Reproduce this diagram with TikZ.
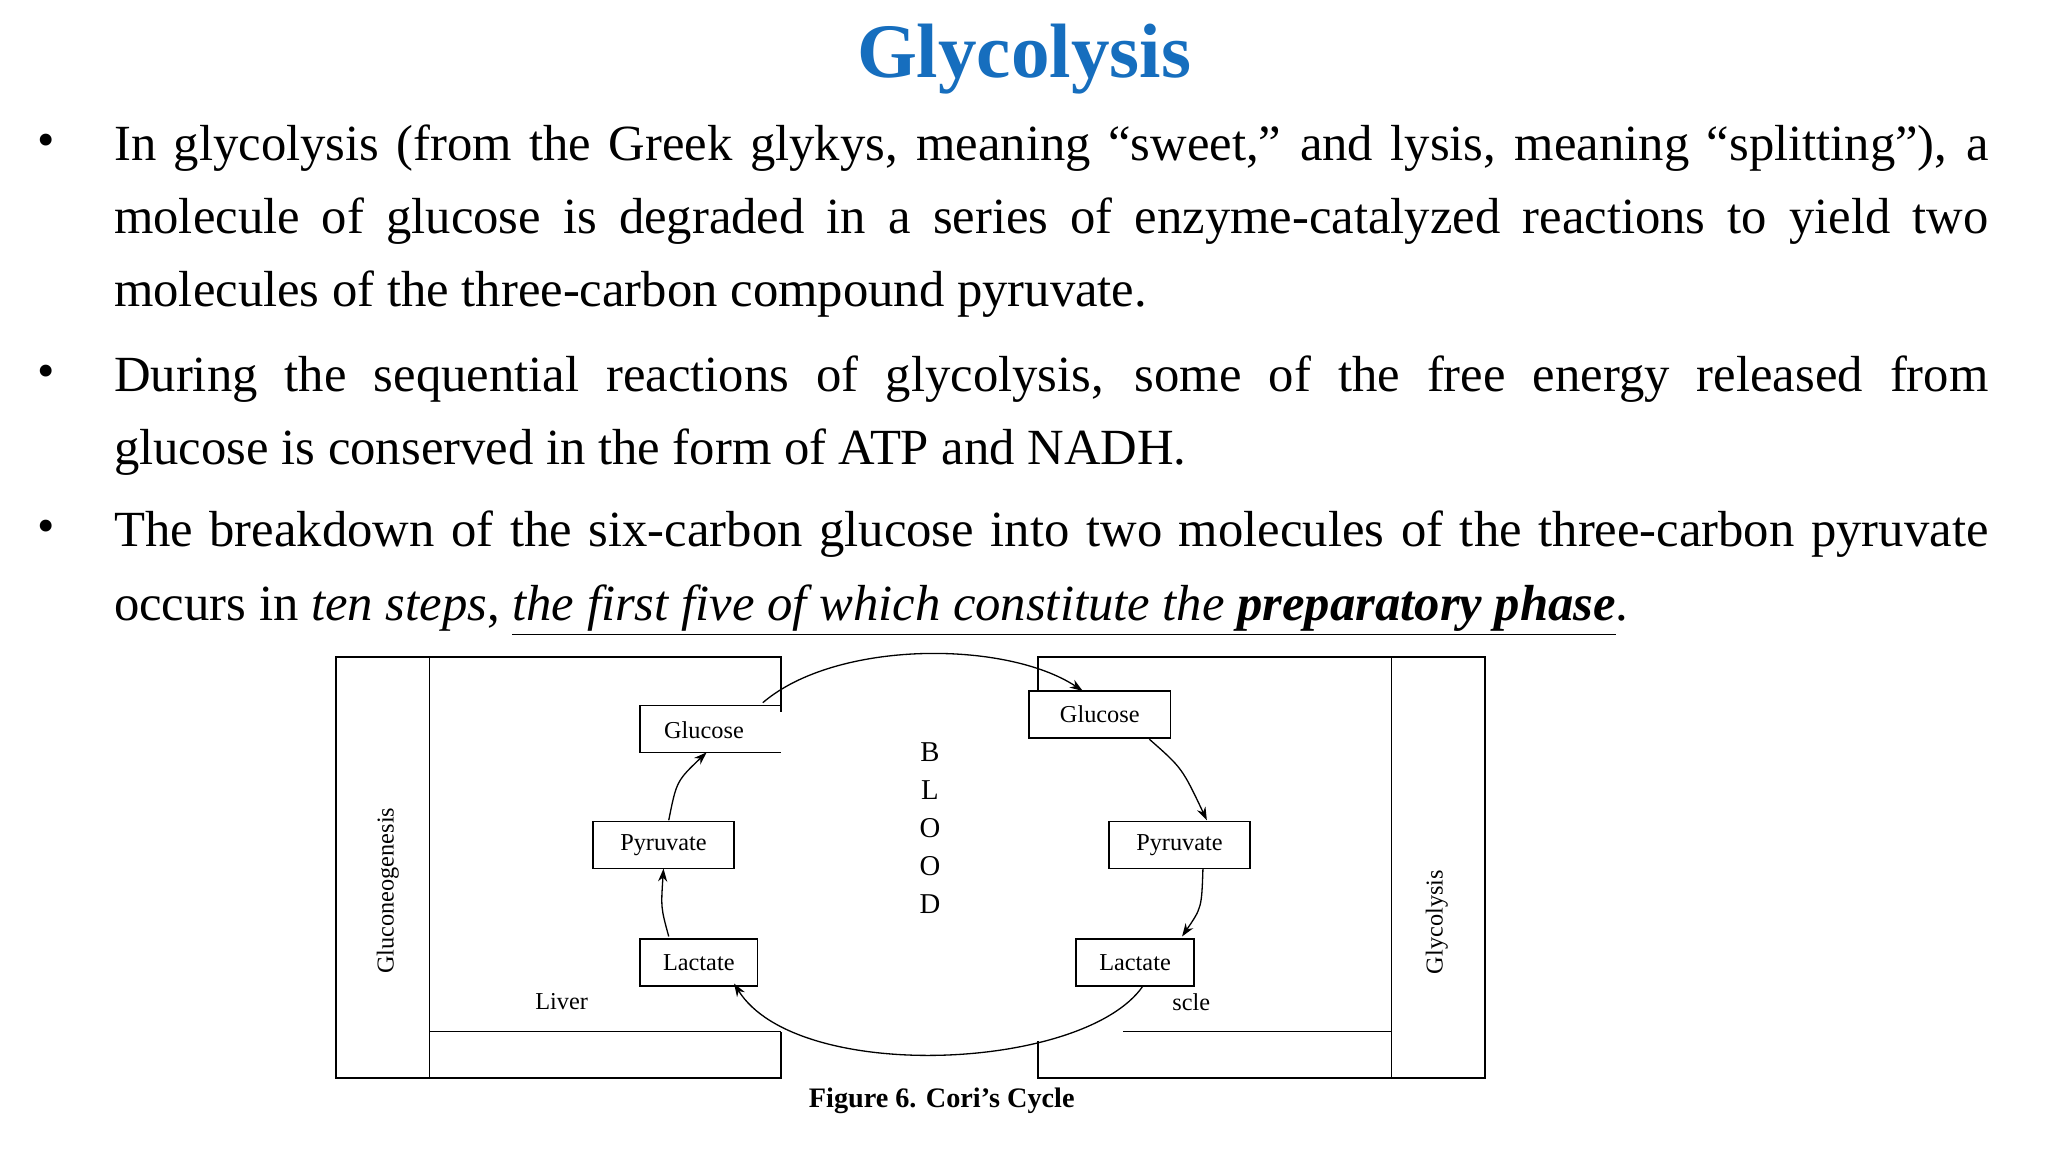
\documentclass[tikz,border=0pt]{standalone}
\usepackage{fontspec}
\setmainfont{Liberation Serif}
\usetikzlibrary{arrows.meta}
\definecolor{titleblue}{RGB}{22,110,190}
\begin{document}
\begin{tikzpicture}[x=0.5pt,y=-0.5pt,
  bx/.style={draw,line width=0.6pt,minimum width=54pt,minimum height=18pt,inner sep=0pt,font=\fontsize{9.3}{10}\selectfont},
  fr/.style={line width=0.8pt},
  thin/.style={line width=0.4pt},
  arr/.style={line width=0.5pt,-{Stealth[length=5pt,width=3.5pt]}},
  lbl/.style={font=\fontsize{9.3}{10}\selectfont},
  body/.style={font=\fontsize{19.4}{28}\selectfont,text width=717.5pt,align=justify,inner sep=0pt,anchor=north west}]
\useasboundingbox (0,0) rectangle (1568,882);
\fill[white] (0,0) rectangle (1568,882);
\node[font=\fontsize{29.5}{32}\selectfont\bfseries,text=titleblue] (title) at (784,45) {Glycolysis};
\node[font=\fontsize{19}{28}\selectfont] (b1) at (35,111) {•};
\node[font=\fontsize{19}{28}\selectfont] (b2) at (35,288) {•};
\node[font=\fontsize{19}{28}\selectfont] (b3) at (35,407) {•};
\node[body] (t1) at (87,95) {In glycolysis (from the Greek glykys, meaning “sweet,” and lysis, meaning “splitting”), a\linebreak molecule of glucose is degraded in a series of enzyme-catalyzed reactions to yield two\linebreak molecules of the three-carbon compound pyruvate.};
\node[body] (t2) at (87,272) {During the sequential reactions of glycolysis, some of the free energy released from\linebreak glucose is conserved in the form of ATP and NADH.};
\node[body] (t3) at (87,391) {The breakdown of the six-carbon glucose into two molecules of the three-carbon pyruvate\linebreak occurs in \textit{ten steps}, \underline{\textit{the first five of which constitute the \textbf{preparatory phase}}}.};
% frames
\draw[fr] (598,545) -- (598,503) -- (257,503) -- (257,825) -- (598,825) -- (598,790);
\draw[thin] (329,503) -- (329,825);
\draw[thin] (329,790) -- (598,790);
\draw[fr] (795,529) -- (795,503) -- (1137,503) -- (1137,825) -- (795,825) -- (795,797);
\draw[thin] (1065,503) -- (1065,825);
\draw[thin] (860,790) -- (1065,790);
% boxes
\node[bx,draw=none] (lglu) at (539,559) {Glucose};
\draw[line width=0.6pt] (598,540) -- (490,540) -- (490,576) -- (598,576);
\node[bx] (lpyr) at (508,647) {Pyruvate};
\node[bx,minimum width=45pt] (llac) at (535,737) {Lactate};
\node[bx] (rglu) at (842,547) {Glucose};
\node[bx] (rpyr) at (903,647) {Pyruvate};
\node[bx,minimum width=45pt] (rlac) at (869,737) {Lactate};
% blood
\node[font=\fontsize{11}{12}\selectfont,align=center] (blood) at (712,634) {B\\[2.5pt]L\\[2.5pt]O\\[2.5pt]O\\[2.5pt]D};
\node[lbl,rotate=90] (glu) at (297,682) {Gluconeogenesis};
\node[lbl,rotate=90] (gly) at (1100,706) {Glycolysis};
\node[lbl] (liver) at (430,767) {Liver};
\node[lbl] (scle) at (912,767) {scle};
\node[font=\fontsize{10.8}{12}\selectfont\bfseries] (cap) at (721,843) {Figure 6. Cori’s Cycle};
% arrows
\coordinate (a1) at (584,538);
\coordinate (a2) at (829,529);
\draw[arr] (a1) .. controls (640,490) and (770,490) .. (a2);
\coordinate (c1) at (875,755);
\coordinate (c2) at (562,753);
\draw[arr] (c1) .. controls (830,820) and (610,830) .. (c2);
\coordinate (d1) at (512,717);
\coordinate (d2) at (508,665);
\draw[arr] (d1) .. controls (506,695) .. (d2);
\coordinate (e1) at (512,628);
\coordinate (e2) at (541,576);
\draw[arr] (e1) .. controls (518,598) .. (e2);
\coordinate (f1) at (880,566);
\coordinate (f2) at (924,628);
\draw[arr] (f1) .. controls (905,588) .. (f2);
\coordinate (g1) at (921,665);
\coordinate (g2) at (905,717);
\draw[arr] (g1) .. controls (920,695) .. (g2);
\end{tikzpicture}
\end{document}
